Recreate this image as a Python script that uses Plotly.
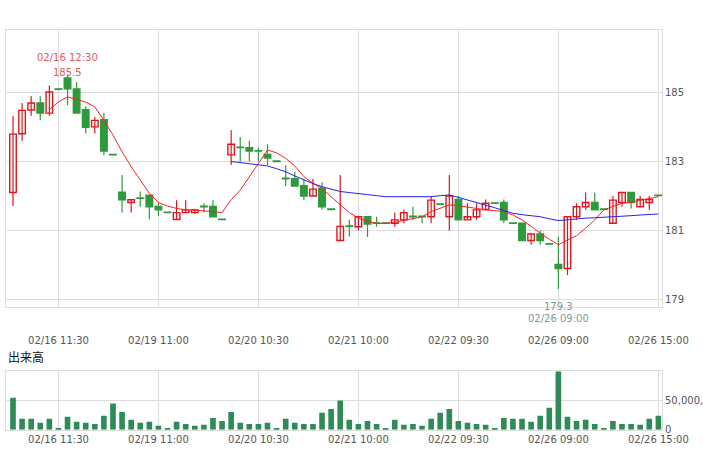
import plotly.graph_objects as go

opens = [182.09,183.79,184.48,184.68,184.39,185.08,185.41,185.09,184.49,183.99,184.20,183.18,182.10,181.80,181.92,182.01,181.69,181.51,181.31,181.51,
         181.51,181.68,181.69,181.31,183.18,183.39,183.39,183.29,183.19,182.99,182.49,182.49,182.29,181.99,182.21,181.60,180.70,181.11,181.10,181.39,
         181.20,181.20,181.20,181.30,181.39,181.39,181.39,181.75,181.39,181.89,181.30,181.39,181.60,181.78,181.80,181.20,181.20,180.70,180.89,180.60,
         180.01,179.89,181.39,181.68,181.80,181.60,181.20,181.80,182.09,181.68,181.80,182.00]
closes = [183.78,184.47,184.68,184.39,185.00,185.08,185.09,184.39,183.98,184.18,183.29,183.18,181.88,181.88,181.92,181.68,181.59,181.51,181.51,181.59,
          181.59,181.68,181.39,181.31,183.49,183.39,183.29,183.29,183.09,182.99,182.49,182.28,181.99,182.19,181.68,181.60,181.11,181.11,181.39,181.18,
          181.20,181.20,181.30,181.51,181.39,181.39,181.87,181.75,181.99,181.30,181.39,181.59,181.78,181.78,181.30,181.20,180.70,180.89,180.70,180.60,
          179.89,181.39,181.68,181.80,181.59,181.60,181.87,182.09,181.80,181.89,181.89,182.00]
highs = [184.30,184.68,184.88,184.88,185.19,185.10,185.50,185.29,184.59,184.28,184.39,183.18,182.60,181.88,182.12,182.01,181.80,181.51,181.87,181.87,
         181.62,181.78,181.87,181.31,183.89,183.70,183.59,183.39,183.49,182.99,182.88,182.69,182.49,182.49,182.39,181.60,182.60,181.30,181.39,181.39,
         181.39,181.20,181.51,181.59,181.68,181.39,181.99,181.75,182.60,181.99,181.78,181.78,181.89,181.78,181.89,181.20,181.20,180.89,180.99,180.60,
         180.80,181.39,181.78,182.09,182.09,181.60,181.99,182.09,182.09,181.99,181.99,182.00]
lows = [181.70,183.59,184.31,184.18,184.31,185.05,184.62,184.39,183.80,183.80,183.17,183.18,181.51,181.51,181.68,181.32,181.41,181.51,181.31,181.51,
        181.48,181.51,181.39,181.31,182.89,182.99,182.99,182.99,182.89,182.99,182.28,182.28,181.87,181.99,181.59,181.60,180.70,180.82,180.99,180.80,
        181.10,181.20,181.10,181.20,181.30,181.20,181.20,181.75,180.99,181.30,181.30,181.30,181.60,181.78,181.20,181.20,180.70,180.58,180.58,180.60,
        179.30,179.70,181.30,181.59,181.59,181.60,181.20,181.68,181.63,181.68,181.59,182.00]
ma_short = [None,None,None,None,184.49,184.71,184.86,184.78,184.71,184.57,184.18,183.75,183.27,182.84,182.45,182.07,181.80,181.70,181.63,181.59,
            181.58,181.57,181.54,181.51,181.88,182.16,182.55,182.93,183.32,183.24,183.08,182.86,182.55,182.36,182.21,181.97,181.73,181.51,181.35,181.25,
            181.20,181.20,181.23,181.28,181.35,181.39,181.54,181.63,181.73,181.71,181.68,181.63,181.59,181.57,181.54,181.44,181.30,181.11,180.91,180.74,
            180.58,180.72,180.84,181.06,181.30,181.59,181.68,181.78,181.81,181.86,181.90,181.97]
ma_long = [None]*24 + [182.99,182.96,182.93,182.90,182.86,182.78,182.69,182.57,182.45,182.35,182.26,182.19,182.12,182.09,182.07,182.03,
            182.00,181.97,181.97,181.97,181.97,181.97,181.97,182.00,182.02,181.95,181.88,181.80,181.73,181.65,181.57,181.49,181.45,181.42,181.39,181.33,
            181.28,181.30,181.33,181.35,181.36,181.37,181.38,181.40,181.42,181.44,181.46,181.47]
volumes = [54,18.5,18.5,12,18.5,3,22,13.5,12,10,23.5,44,30,17,12,13.5,6.7,3,13.5,10,6.7,8.4,20,15,30,12,10,10,12,3,18.5,12,10,10,28.6,35,49,17,10,15,
           10,3,17,8.4,10,6.7,18.5,28.6,35,15,12,10,8.4,3,20,18.5,18.5,13.5,23.5,37,98,22,15,17,10,3,15,10,10,8.4,18.5,23.5]
volumes = [v*1e6 for v in volumes]
tick_idx = [5,16,27,38,49,60,71]
tick_labels = ["02/16 11:30","02/19 11:00","02/20 10:30","02/21 10:00","02/22 09:30","02/26 09:00","02/26 15:00"]

RED = "#e0141e"; GREEN = "#2e9a3c"
fig = go.Figure()
n = len(opens)
for up, col in ((True, RED), (False, GREEN)):
    idx = [i for i in range(n) if (closes[i] > opens[i]) == up]
    wx, wy = [], []
    for i in idx:
        wx += [i, i, None]; wy += [lows[i], highs[i], None]
    fig.add_trace(go.Scatter(x=wx, y=wy, mode="lines", line=dict(color=col, width=1.2),
                             showlegend=False, hoverinfo="skip", xaxis="x", yaxis="y"))
for up, col, fill in ((True, RED, "white"), (False, GREEN, GREEN)):
    idx = [i for i in range(n) if (closes[i] > opens[i]) == up]
    fig.add_trace(go.Bar(x=idx, base=[min(opens[i], closes[i]) for i in idx],
                         y=[max(abs(closes[i]-opens[i]), 0.012) for i in idx],
                         width=0.72, marker=dict(color=fill, line=dict(color=col, width=1.4)),
                         showlegend=False, hoverinfo="skip", xaxis="x", yaxis="y"))
x = list(range(n))
fig.add_trace(go.Scatter(x=x, y=ma_short, mode="lines", line=dict(color="#ff2020", width=1), showlegend=False, xaxis="x", yaxis="y"))
fig.add_trace(go.Scatter(x=x, y=ma_long, mode="lines", line=dict(color="#2222ee", width=1), showlegend=False, xaxis="x", yaxis="y"))
fig.add_trace(go.Bar(x=x, y=volumes, marker=dict(color="#2e8b57", line=dict(width=0)), width=0.62,
    showlegend=False, xaxis="x2", yaxis="y2"))

xr = [-0.77, 71.4]
ax = dict(range=xr, tickvals=tick_idx, ticktext=tick_labels, showgrid=True, gridcolor="#dddddd",
          showline=True, linecolor="#dddddd", mirror=True, zeroline=False, automargin=False,
          tickfont=dict(family="DejaVu Sans", size=10, color="#555"), fixedrange=True)
yax = dict(side="right", showgrid=True, gridcolor="#dddddd", showline=True, linecolor="#dddddd", mirror=True,
           zeroline=False, automargin=False, tickfont=dict(family="DejaVu Sans", size=10, color="#555"), ticks="")
fig.update_layout(
    width=703, height=452, margin=dict(l=6, r=41, t=0, b=0),
    plot_bgcolor="white", paper_bgcolor="white", barmode="overlay",
    xaxis=dict(ax, anchor="y", ticks="outside", ticklen=24, tickcolor="rgba(0,0,0,0)"),
    xaxis2=dict(ax, anchor="y2", ticks=""),
    yaxis=dict(yax, domain=[0.321, 0.934], range=[178.78, 186.8], tickvals=[179,181,183,185]),
    yaxis2=dict(yax, domain=[0.049, 0.179], range=[0, 98.5e6], tickvals=[0, 50e6], ticktext=["0", "50,000,000"]),
    annotations=[
        dict(text="02/16 12:30", x=6, y=394, xref="x", yref="paper", showarrow=False,
             font=dict(family="DejaVu Sans", size=10, color="#e05a5a")),
        dict(text="185.5", x=6, y=380, xref="x", yref="paper", showarrow=False,
             font=dict(family="DejaVu Sans", size=10, color="#e05a5a")),
        dict(text="179.3", x=60, y=146, xref="x", yref="paper", showarrow=False,
             font=dict(family="DejaVu Sans", size=10, color="#7a9a9a")),
        dict(text="02/26 09:00", x=60, y=134, xref="x", yref="paper", showarrow=False,
             font=dict(family="DejaVu Sans", size=10, color="#7a9a9a")),
        dict(text="出来高", x=0.0, y=96, xref="paper", yref="paper", xanchor="left", showarrow=False,
             font=dict(family="Noto Sans CJK JP", size=12, color="#111")),
    ],
)
for a in fig.layout.annotations:
    a.y = a.y / 452
    a.yanchor = "middle"
fig.write_html("out.html", config={"displayModeBar": False})
with open("out.html", encoding="utf-8") as f:
    html = f.read()
html = html.replace("<body>", '<body style="margin:0">', 1)
with open("out.html", "w", encoding="utf-8") as f:
    f.write(html)
